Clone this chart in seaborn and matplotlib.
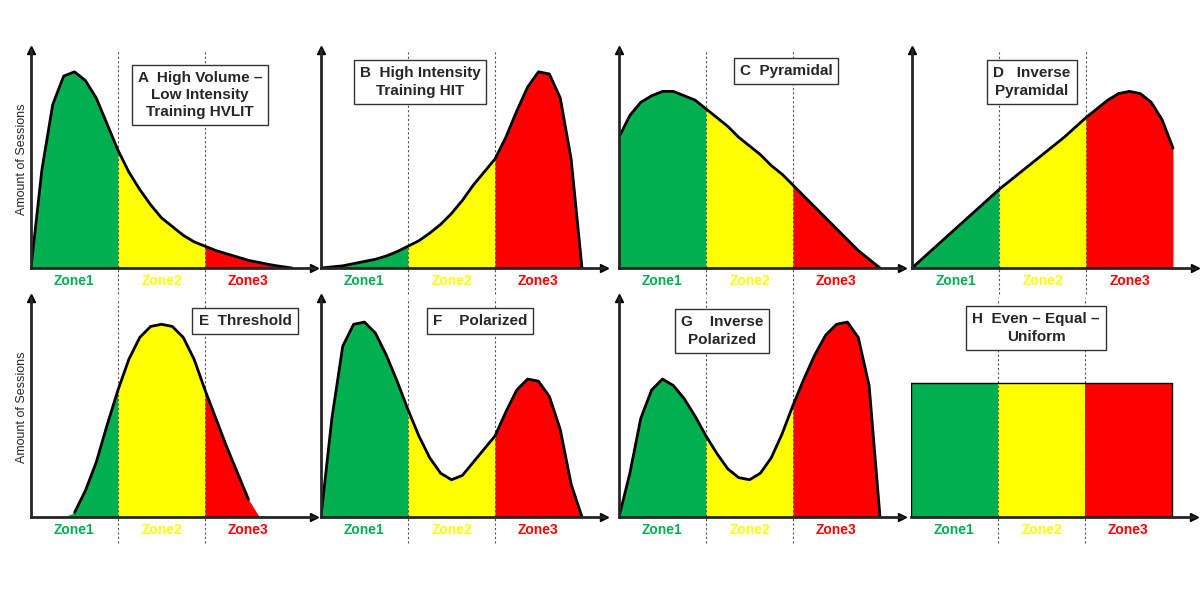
import numpy as np
import pandas as pd
import matplotlib.pyplot as plt
import seaborn as sns

sns.set_style("white")
plt.rcParams['font.family'] = ['Liberation Sans', 'DejaVu Sans']

# x positions in zone units (0..3, zone boundaries at 1 and 2)
x_pts = [i * 0.125 for i in range(25)]

# curve heights (0 = baseline, 1 = top of axis)
curve_a = [0, 0.45, 0.75, 0.88, 0.9, 0.86, 0.78, 0.66, 0.54, 0.44, 0.36, 0.29, 0.23,
           0.19, 0.15, 0.12, 0.10, 0.08, 0.065, 0.05, 0.035, 0.025, 0.015, 0.007, 0]
curve_b = [0, 0.005, 0.01, 0.02, 0.03, 0.04, 0.055, 0.075, 0.1, 0.125, 0.16, 0.2, 0.25,
           0.31, 0.38, 0.44, 0.5, 0.6, 0.72, 0.83, 0.9, 0.89, 0.78, 0.5, 0]
curve_c = [0.6, 0.7, 0.76, 0.79, 0.81, 0.81, 0.79, 0.77, 0.73, 0.69, 0.65, 0.6, 0.56,
           0.52, 0.47, 0.43, 0.38, 0.33, 0.28, 0.23, 0.18, 0.13, 0.08, 0.04, 0]
curve_d = [0, 0.045, 0.09, 0.135, 0.18, 0.225, 0.27, 0.315, 0.36, 0.4, 0.44, 0.48, 0.52,
           0.56, 0.6, 0.645, 0.69, 0.73, 0.77, 0.8, 0.81, 0.8, 0.76, 0.68, 0.55]
curve_e = [0, 0, 0, 0, 0.02, 0.12, 0.25, 0.42, 0.58, 0.72, 0.82, 0.87, 0.88,
           0.87, 0.82, 0.72, 0.58, 0.45, 0.32, 0.2, 0.08, 0, 0, 0, 0]
curve_f = [0, 0.45, 0.78, 0.88, 0.89, 0.84, 0.74, 0.62, 0.49, 0.37, 0.27, 0.2, 0.17,
           0.19, 0.25, 0.31, 0.37, 0.48, 0.58, 0.63, 0.62, 0.55, 0.4, 0.15, 0]
curve_g = [0, 0.2, 0.45, 0.58, 0.63, 0.6, 0.54, 0.46, 0.37, 0.29, 0.22, 0.18, 0.17,
           0.2, 0.27, 0.38, 0.51, 0.63, 0.74, 0.83, 0.88, 0.89, 0.82, 0.6, 0]
curve_h = [0.61] * 25

curves = [curve_a, curve_b, curve_c, curve_d, curve_e, curve_f, curve_g, curve_h]
titles = ["A  High Volume –\nLow Intensity\nTraining HVLIT", "B  High Intensity\nTraining HIT",
          "C  Pyramidal", "D   Inverse\nPyramidal", "E  Threshold", "F    Polarized",
          "G    Inverse\nPolarized", "H  Even – Equal –\nUniform"]
zone_names = ["Zone1", "Zone2", "Zone3"]
zone_colors = ["#00B050", "#FFFF00", "#FF0000"]

# layout in pixels: origin x of each panel, baseline/top of each row, title box centres
x_origin = [31, 321, 619, 912, 31, 321, 619, 911]
row_base = [268, 517]
row_top = [50, 298]
title_pos = [(200, 95), (420, 82), (786, 71), (1032, 82), (245, 321), (480, 321), (722, 331), (1036, 328)]
unit = 87

fig = plt.figure(figsize=(12, 6), dpi=100)
x = np.array(x_pts)
for i, y in enumerate(curves):
    r = i // 4
    h = row_base[r] - row_top[r]
    ax = fig.add_axes([x_origin[i] / 1200, 1 - row_base[r] / 600, 3.25 * unit / 1200, h / 600])
    y = np.array(y)
    df = pd.DataFrame({'x': x, 'y': y})
    for z in range(3):
        m = (x >= z) & (x <= z + 1)
        ax.fill_between(x, 0, y, where=m, color=zone_colors[z], lw=0)
        ax.text(z + 0.5, -0.06, zone_names[z], color=zone_colors[z], ha='center', va='center',
                fontsize=10, fontweight='bold', clip_on=False)
        if z > 0:
            ax.plot([z, z], [-0.12, 1.0], ls=(0, (2, 2)), color='#555555', lw=0.8, clip_on=False)
    if i == 7:
        ax.plot([0, 0, 3, 3], [0, 0.61, 0.61, 0], color='black', lw=1)
    else:
        sns.lineplot(data=df[df['y'] > 0.001] if i == 4 else df, x='x', y='y', ax=ax, color='black', lw=2)
    ax.set_xlim(0, 3.25)
    ax.set_ylim(0, 1)
    ax.set_xticks([])
    ax.set_yticks([])
    ax.set_xlabel('')
    ax.set_ylabel('Amount of Sessions' if i % 4 == 0 else '', fontsize=9, labelpad=2)
    for s in ['top', 'right']:
        ax.spines[s].set_visible(False)
    for s in ['left', 'bottom']:
        ax.spines[s].set_linewidth(2)
    if i == 7:
        ax.spines['left'].set_visible(False)
    else:
        ax.plot(0, 1, '^k', ms=6, transform=ax.transAxes, clip_on=False)
    ax.plot(1, 0, '>k', ms=6, transform=ax.transAxes, clip_on=False)
    tx, ty = title_pos[i]
    fig.text(tx / 1200, 1 - ty / 600, titles[i], ha='center', va='center', fontsize=11,
             fontweight='bold', linespacing=1.3,
             bbox=dict(boxstyle='square,pad=0.4', fc='white', ec='#333333', lw=1))

fig.savefig('out.png', dpi=100)
